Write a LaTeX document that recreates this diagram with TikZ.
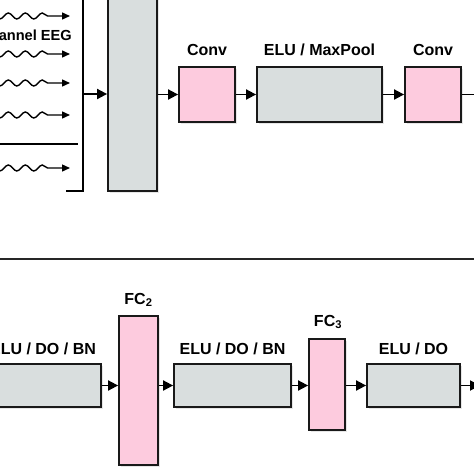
\documentclass[tikz,border=0pt]{standalone}
\usepackage{fontspec}
\setmainfont{Liberation Sans}
\usetikzlibrary{positioning, arrows.meta, decorations.pathmorphing, shadows}
\definecolor{layergray}{RGB}{217,222,222}
\definecolor{layerpink}{RGB}{253,203,222}
\tikzstyle{graylayer} = [rectangle, inner sep=0pt, draw=black!90, line width=1.8pt, fill=layergray, drop shadow={shadow xshift=2pt, shadow yshift=-2pt, opacity=0.2}]
\tikzstyle{pinklayer} = [rectangle, inner sep=0pt, draw=black!90, line width=1.8pt, fill=layerpink, drop shadow={shadow xshift=2pt, shadow yshift=-2pt, opacity=0.2}]
\tikzstyle{layername} = [inner sep=0pt, font=\fontsize{16}{19}\selectfont\bfseries]
\tikzstyle{arrow} = [line width=1.8pt,-{Triangle[length=10pt,width=10pt]}]
\tikzstyle{signal} = [line width=1.4pt,-{Triangle[length=8pt,width=7pt]}, decorate, decoration={snake, amplitude=3pt, segment length=17pt, post length=17pt}]

\begin{document}
\begin{tikzpicture}[x=1pt, y=-1pt]
            \useasboundingbox (0,0) rectangle (474,474);
            % input channels
            \foreach \y [count=\i] in {16,54,83,115,168} {
                \coordinate (src\i) at (-14,\y);
                \coordinate (ch\i) at (70,\y);
                \draw [signal] (src\i) -- (ch\i);
            }
            \node (eeg) [layername, font=\fontsize{14.6}{17}\selectfont\bfseries, anchor=east] at (72,35) {annel EEG};
            \draw [line width=1.6pt] (-5,144) -- (78,144);
            \coordinate (brtop) at (83,-10);
            \coordinate (brbot) at (83,191);
            \coordinate (brend) at (66,191);
            \coordinate (brk) at (83,94);
            \draw [line width=1.6pt] (brtop) -- (brbot) -- (brend);

            % conv part
            \node (input) [graylayer, minimum width=49pt, minimum height=201pt] at (132.5,90.5) {};
            \node (conv1) [pinklayer, minimum width=56pt, minimum height=55pt] at (207,94.5) {};
            \node (pool) [graylayer, minimum width=125pt, minimum height=55pt] at (319.5,94.5) {};
            \node (conv2) [pinklayer, minimum width=56pt, minimum height=55pt] at (433,94.5) {};
            \coordinate (out1) at (484,94.5);
            \node (conv1name) [layername] at (207,50) {Conv};
            \node (poolname) [layername] at (319.5,50) {ELU / MaxPool};
            \node (conv2name) [layername] at (433,50) {Conv};

            \draw [arrow] (brk) -- (input.west |- brk);
            \draw [arrow] (input.east |- conv1) -- (conv1);
            \draw [arrow] (conv1) -- (pool);
            \draw [arrow] (pool) -- (conv2);
            \draw [arrow] (conv2) -- (out1);

            \draw [line width=1.6pt, black!85] (-5,259) -- (480,259);

            % fully connected part
            \node (act1) [graylayer, minimum width=117pt, minimum height=43pt] at (42.5,385.5) {};
            \node (fc2) [pinklayer, minimum width=39pt, minimum height=149pt] at (138.5,390.5) {};
            \node (act2) [graylayer, minimum width=117pt, minimum height=43pt] at (232.5,385.5) {};
            \node (fc3) [pinklayer, minimum width=36pt, minimum height=91pt] at (327,384.5) {};
            \node (act3) [graylayer, minimum width=93pt, minimum height=43pt] at (413.5,385.5) {};
            \coordinate (out2) at (480,385.5);
            \node (act1name) [layername] at (43,349) {ELU / DO / BN};
            \node (fc2name) [layername] at (138.5,300) {FC\textsubscript{2}};
            \node (act2name) [layername] at (232.5,349) {ELU / DO / BN};
            \node (fc3name) [layername] at (328,322) {FC\textsubscript{3}};
            \node (act3name) [layername] at (413.5,349) {ELU / DO};

            \draw [arrow] (act1) -- (act1 -| fc2.west);
            \draw [arrow] (fc2.east |- act2) -- (act2);
            \draw [arrow] (act2) -- (act2 -| fc3.west);
            \draw [arrow] (fc3.east |- act3) -- (act3);
            \draw [arrow] (act3) -- (out2);

\end{tikzpicture}
\end{document}
